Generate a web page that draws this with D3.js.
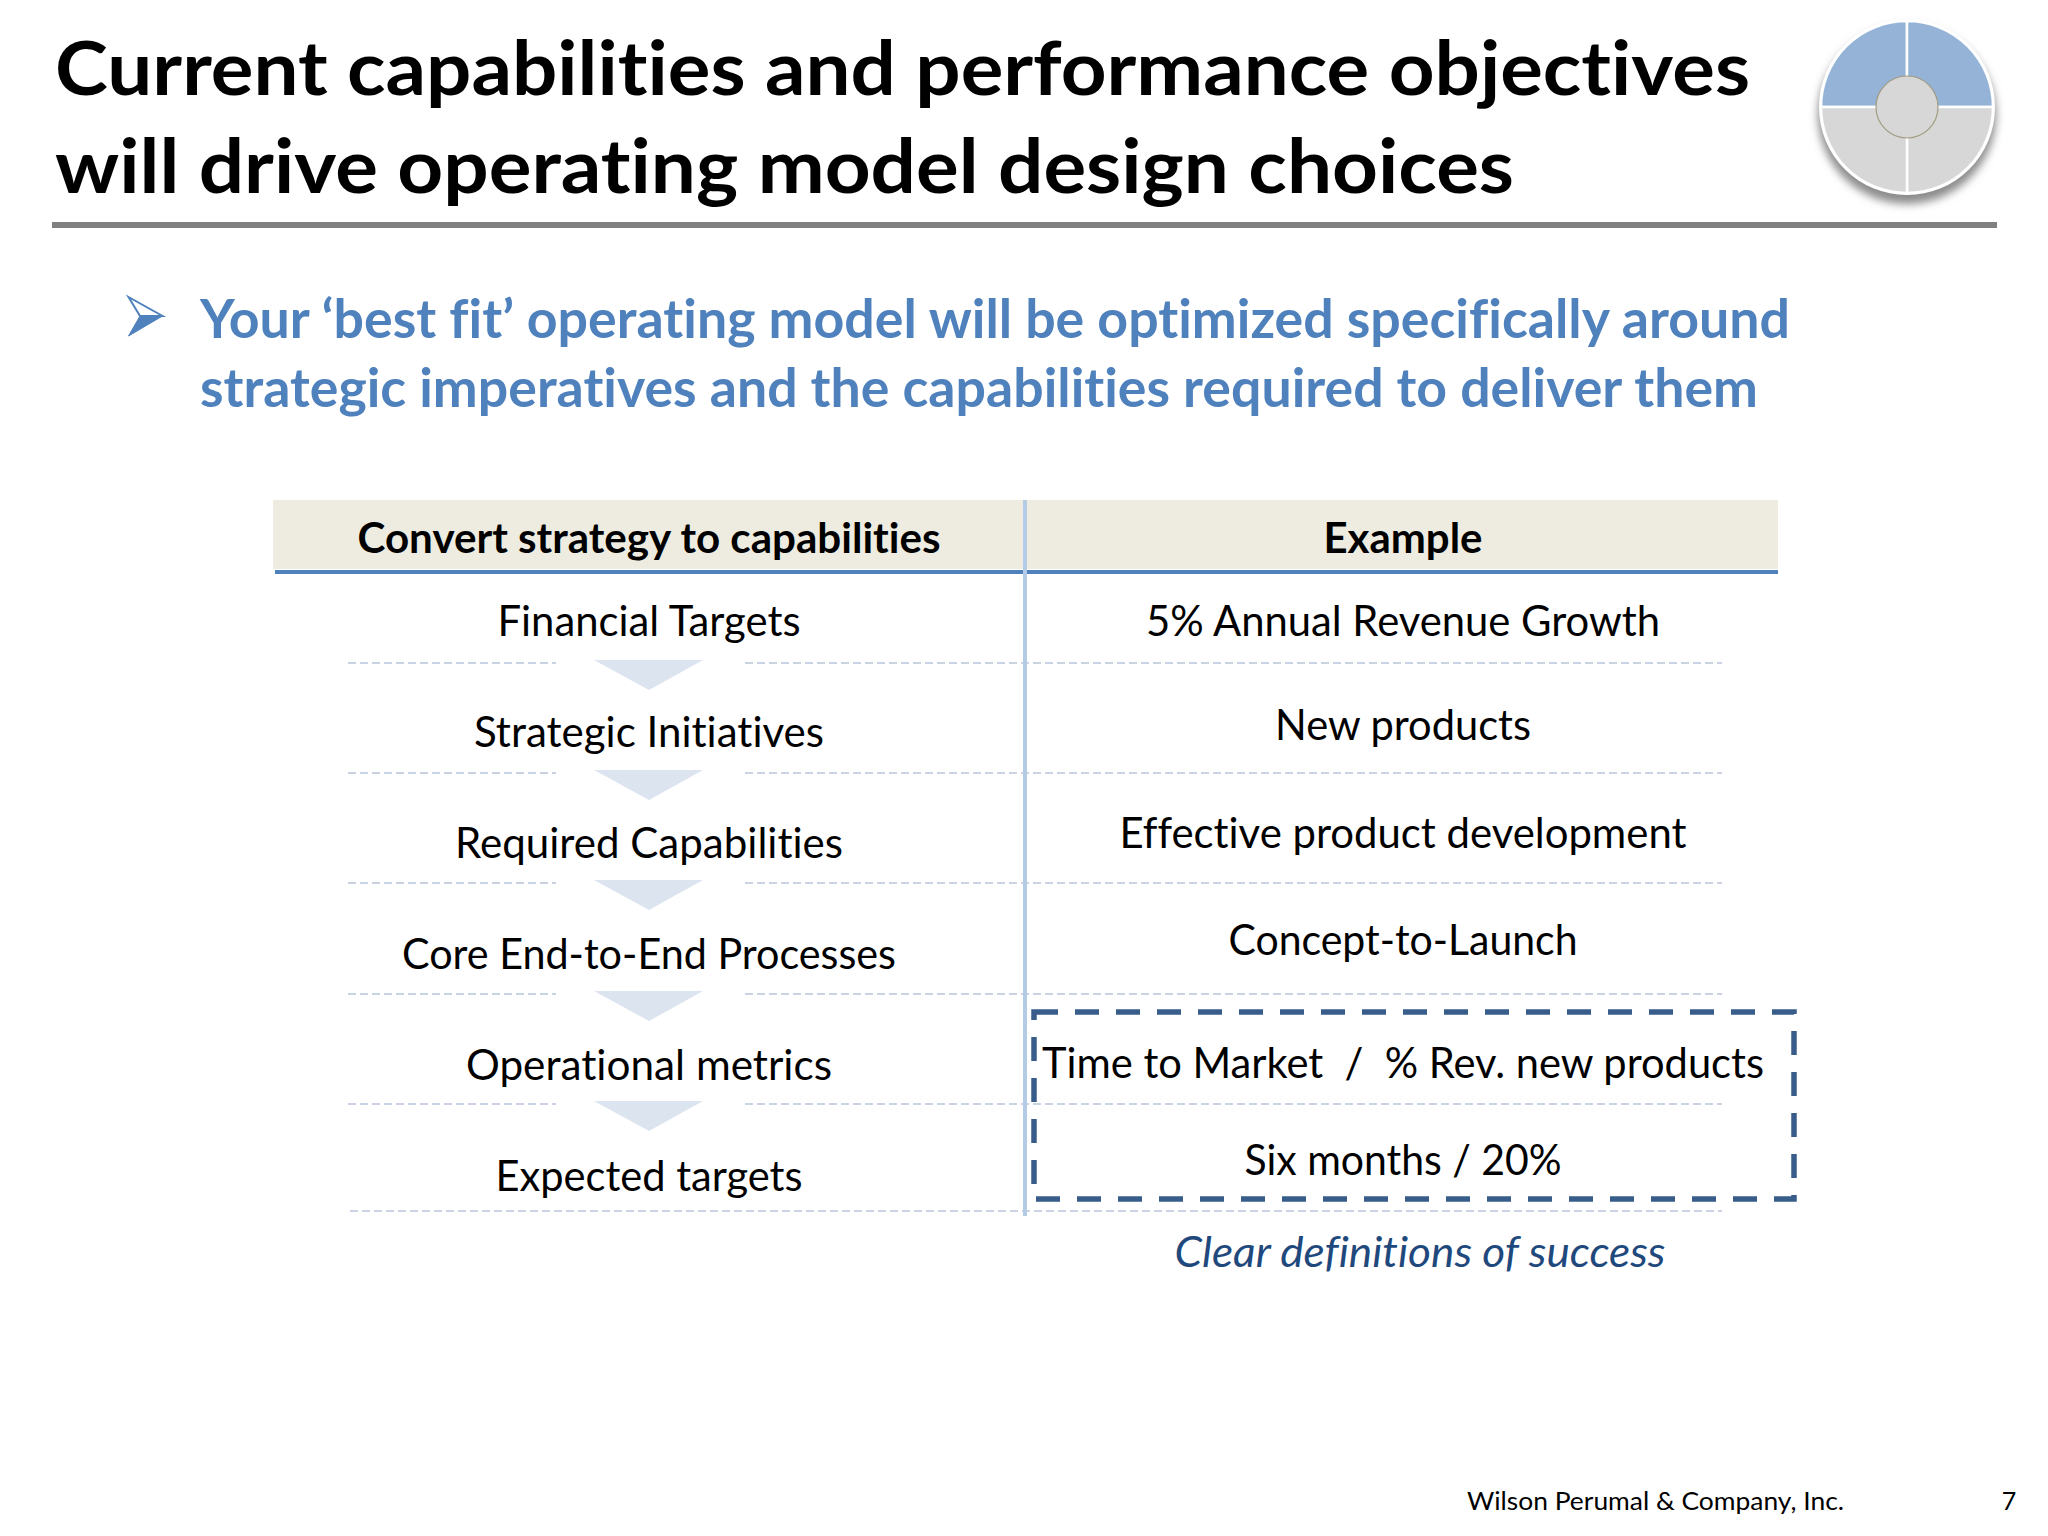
<!DOCTYPE html>
<html>
<head>
<meta charset="utf-8">
<script src="https://cdnjs.cloudflare.com/ajax/libs/d3/7.8.5/d3.min.js"></script>
<style>
  html, body { margin: 0; padding: 0; background: #fff; }
  text { font-family: Lato, "Open Sans", sans-serif; font-variant-ligatures: none; }
</style>
</head>
<body>
<script>
// Slide content
const titleLines = ["Current capabilities and performance objectives", "will drive operating model design choices"];
const bulletLines = ["Your \u2018best fit\u2019 operating model will be optimized specifically around", "strategic imperatives and the capabilities required to deliver them"];
const headers = ["Convert strategy to capabilities", "Example"];
const steps = ["Financial Targets", "Strategic Initiatives", "Required Capabilities", "Core End-to-End Processes", "Operational metrics", "Expected targets"];
const examples = ["5% Annual Revenue Growth", "New products", "Effective product development", "Concept-to-Launch", "Time to Market  /  % Rev. new products", "Six months / 20%"];
const note = "Clear definitions of success";
const footer = "Wilson Perumal & Company, Inc.";
const pageNumber = "7";
const wheelParts = [1, 1, 1, 1];

// Layout, measured off the slide
const titleWidths = [1695, 1459];
const bulletWidths = [1590, 1558];
const headerWidths = [583, 159];
const stepWidths = [303, 350, 388, 494, 366, 307];
const exampleWidths = [514, 256, 567, 349, 722, 317];
const exampleBaselines = [636, 740, 848, 955, 1078, 1175];
const ruleYs = [663, 773, 883, 994, 1104, 1211];

const svg = d3.select("body").append("svg")
    .attr("width", 2048)
    .attr("height", 1536)
    .style("display", "block");

const defs = svg.append("defs");
defs.append("filter").attr("id", "wheelShadow")
    .attr("x", "-20%").attr("y", "-20%").attr("width", "140%").attr("height", "140%")
  .append("feGaussianBlur").attr("stdDeviation", 4);

// Step rows are evenly spaced, one scale for their baselines
const stepY = d3.scalePoint().domain(steps).range([636, 1191]);
const leftX = 649, rightX = 1403;

function fitText(sel, width) {
  return sel.attr("textLength", width).attr("lengthAdjust", "spacingAndGlyphs");
}

// Title
svg.selectAll(".title").data(titleLines).enter().append("text")
    .attr("class", "title")
    .attr("x", 55)
    .attr("y", (d, i) => 95 + i * 98)
    .attr("font-size", 74)
    .attr("font-weight", 700)
    .attr("fill", "#000")
    .text(d => d)
    .each(function(d, i) { fitText(d3.select(this), titleWidths[i]); });

svg.append("rect")
    .attr("x", 52).attr("y", 222)
    .attr("width", 1945).attr("height", 6)
    .attr("fill", "#808080");

// Wheel icon, top right
const wheel = svg.append("g").attr("transform", "translate(1907,107)");
wheel.append("circle")
    .attr("cy", 8).attr("r", 89)
    .attr("fill", "#8c8c8c")
    .attr("filter", "url(#wheelShadow)");
wheel.append("circle").attr("r", 88).attr("fill", "#fff");

const pie = d3.pie().sort(null).startAngle(-Math.PI / 2).endAngle(1.5 * Math.PI);
const wheelArc = d3.arc().innerRadius(0).outerRadius(86);
wheel.selectAll(".part").data(pie(wheelParts)).enter().append("path")
    .attr("class", "part")
    .attr("d", wheelArc)
    .attr("fill", (d, i) => i < 2 ? "#95b3d7" : "#d7d7d7")
    .attr("stroke", "#fff")
    .attr("stroke-width", 2.5);
wheel.append("circle")
    .attr("r", 31)
    .attr("fill", "#d7d7d7")
    .attr("stroke", "#a09c80")
    .attr("stroke-width", 1.2);

// Bullet arrowhead, upper half outlined and lower half filled
const arrowLine = d3.line();
svg.append("path")
    .attr("d", arrowLine([[128.5, 297], [162.5, 316], [140, 316]]) + "Z")
    .attr("fill", "#fff")
    .attr("stroke", "#4f81bd")
    .attr("stroke-width", 2);
svg.append("path")
    .attr("d", arrowLine([[128.5, 336], [162.5, 316], [140, 316]]) + "Z")
    .attr("fill", "#4f81bd")
    .attr("stroke", "#4f81bd")
    .attr("stroke-width", 1);

svg.selectAll(".bullet").data(bulletLines).enter().append("text")
    .attr("class", "bullet")
    .attr("x", 200)
    .attr("y", (d, i) => 338 + i * 69)
    .attr("font-size", 53)
    .attr("font-weight", 700)
    .attr("fill", "#4f81bd")
    .text(d => d)
    .each(function(d, i) { fitText(d3.select(this), bulletWidths[i]); });

// Table header
svg.append("rect")
    .attr("x", 273).attr("y", 500)
    .attr("width", 1505).attr("height", 69)
    .attr("fill", "#eeece1");
svg.append("rect")
    .attr("x", 275).attr("y", 570)
    .attr("width", 1503).attr("height", 4)
    .attr("fill", "#4f81bd");

svg.selectAll(".head").data(headers).enter().append("text")
    .attr("class", "head")
    .attr("x", (d, i) => i === 0 ? leftX : rightX)
    .attr("y", 553)
    .attr("text-anchor", "middle")
    .attr("font-size", 42)
    .attr("font-weight", 700)
    .attr("fill", "#000")
    .text(d => d)
    .each(function(d, i) { fitText(d3.select(this), headerWidths[i]); });

// Dashed row rules, with a gap where the arrow sits (the last one has no arrow)
const dashStyle = sel => sel
    .attr("stroke", "#c9d3e3")
    .attr("stroke-width", 2)
    .attr("stroke-dasharray", "8,4");

ruleYs.forEach(function(y, i) {
  const last = i === ruleYs.length - 1;
  const segments = last ? [[350, 1722]] : [[348, 556], [745, 1722]];
  segments.forEach(function(s) {
    svg.append("line")
        .attr("x1", s[0]).attr("x2", s[1])
        .attr("y1", y).attr("y2", y)
        .call(dashStyle);
  });
  if (!last) {
    const top = y - 3;
    svg.append("path")
        .attr("d", d3.line()([[594, top], [703, top], [649, top + 30]]) + "Z")
        .attr("fill", "#dce4f0");
  }
});

// Column divider
svg.append("rect")
    .attr("x", 1023).attr("y", 500)
    .attr("width", 4).attr("height", 716)
    .attr("fill", "#b4cbe6");

// Rows
svg.selectAll(".step").data(steps).enter().append("text")
    .attr("class", "step")
    .attr("x", leftX)
    .attr("y", d => stepY(d))
    .attr("text-anchor", "middle")
    .attr("font-size", 42)
    .attr("fill", "#000")
    .text(d => d)
    .each(function(d, i) { fitText(d3.select(this), stepWidths[i]); });

svg.selectAll(".example").data(examples).enter().append("text")
    .attr("class", "example")
    .attr("x", rightX)
    .attr("y", (d, i) => exampleBaselines[i])
    .attr("text-anchor", "middle")
    .attr("font-size", 42)
    .attr("fill", "#000")
    .attr("xml:space", "preserve")
    .style("white-space", "pre")
    .text(d => d)
    .each(function(d, i) { fitText(d3.select(this), exampleWidths[i]); });

// Highlight box round the last two examples
svg.append("rect")
    .attr("x", 1034).attr("y", 1012)
    .attr("width", 760).attr("height", 187)
    .attr("fill", "none")
    .attr("stroke", "#385d8a")
    .attr("stroke-width", 5.5)
    .attr("stroke-dasharray", "24,17");

svg.append("text")
    .attr("x", 1420).attr("y", 1267)
    .attr("text-anchor", "middle")
    .attr("font-size", 42)
    .attr("font-style", "italic")
    .attr("fill", "#1f497d")
    .text(note)
    .call(fitText, 491);

// Footer
svg.append("text")
    .attr("x", 1467).attr("y", 1510)
    .attr("font-size", 25)
    .attr("fill", "#000")
    .text(footer)
    .call(fitText, 377);
svg.append("text")
    .attr("x", 2009).attr("y", 1510)
    .attr("text-anchor", "middle")
    .attr("font-size", 25)
    .attr("fill", "#000")
    .text(pageNumber);
</script>
</body>
</html>
